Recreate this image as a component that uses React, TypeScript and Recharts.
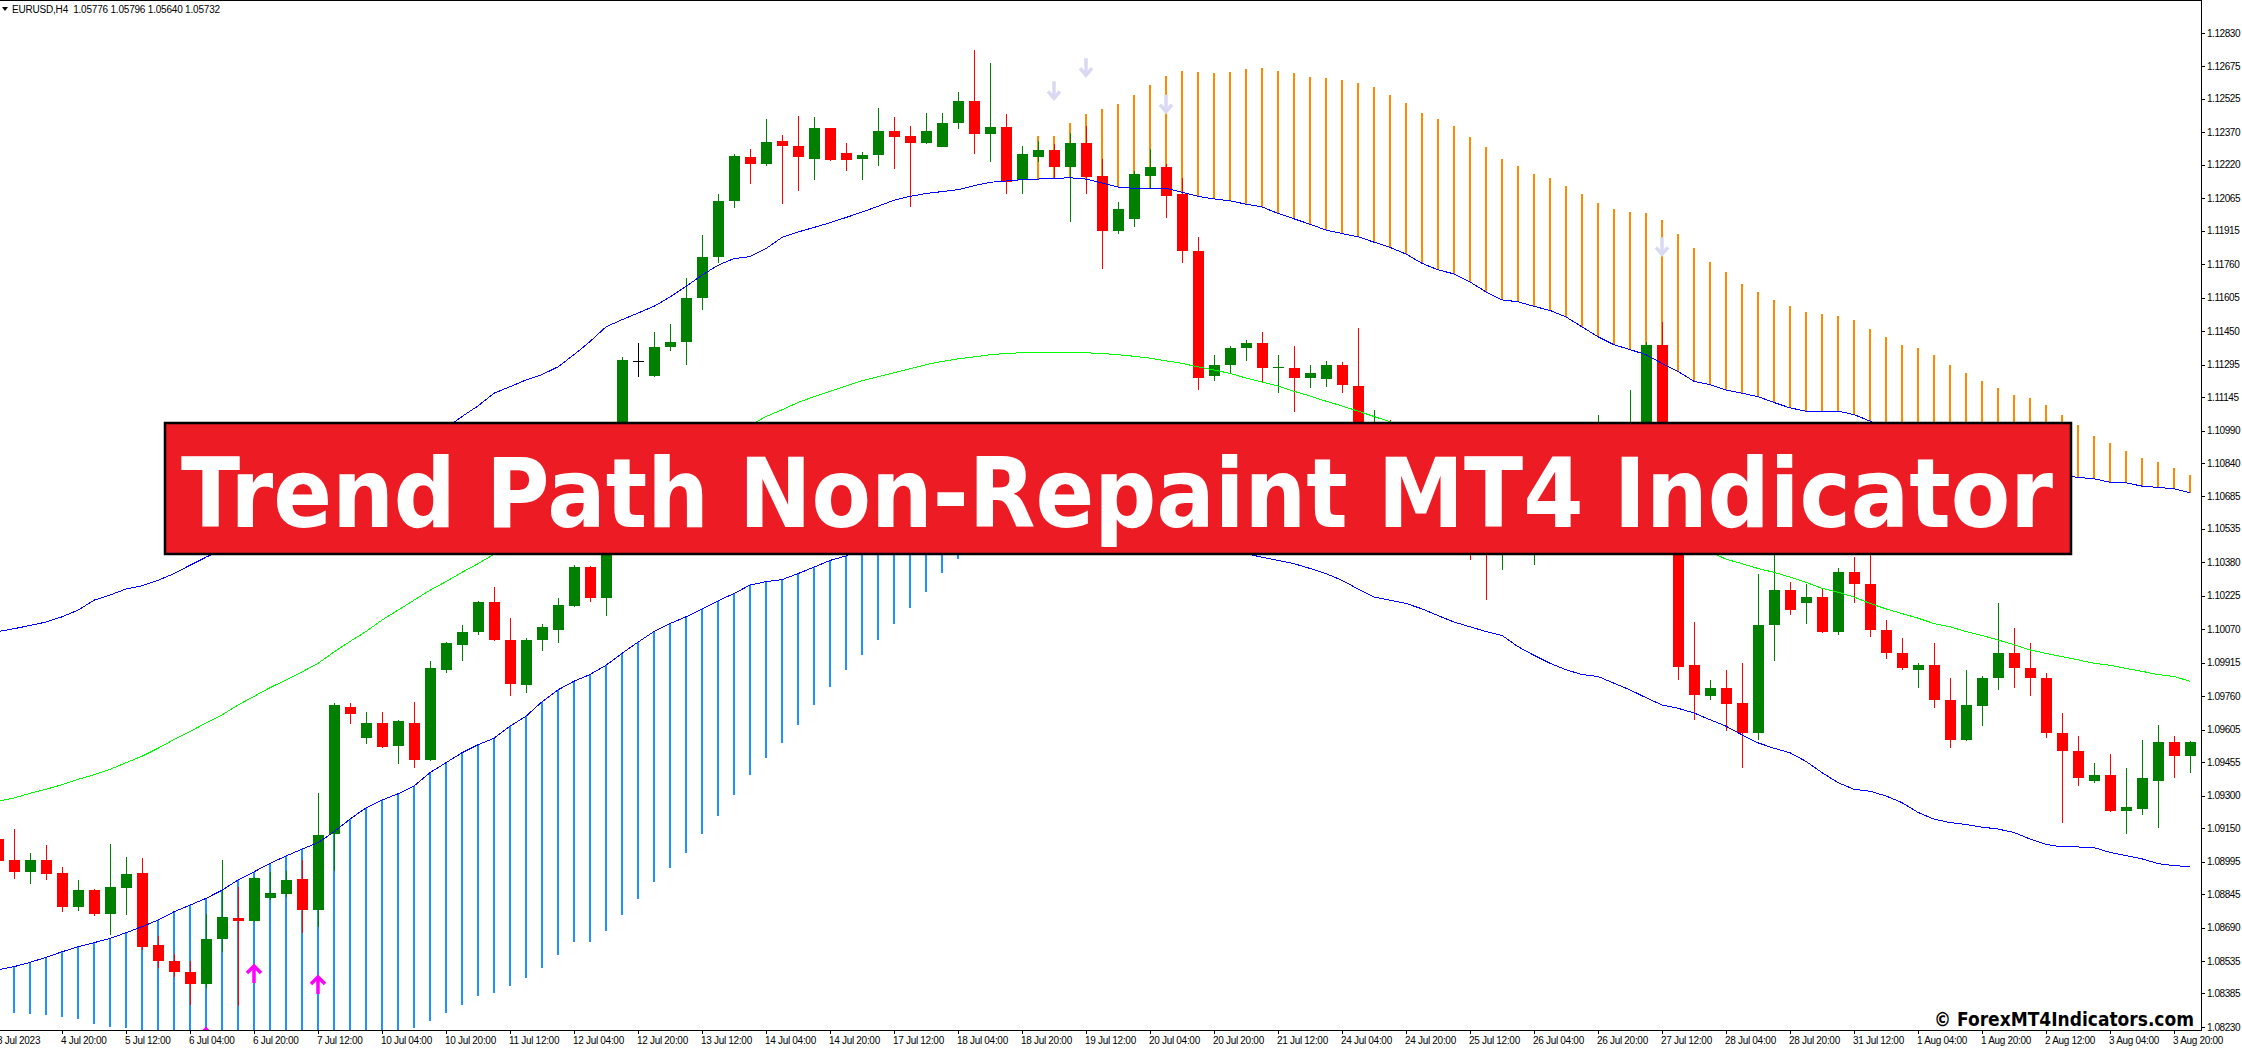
import { ComposedChart, Bar, Line, Scatter, XAxis, YAxis } from "recharts";

// EURUSD H4, bars k = -1 .. 136 (first one is cut by the left edge)
const FIRST_BAR = -1;

const open = [
  1.091, 1.09002, 1.08948, 1.09002, 1.08942, 1.08786, 1.08863, 1.08752, 1.08874, 1.08942,
  1.08609, 1.08535, 1.08484, 1.0843, 1.08638, 1.08734, 1.08722, 1.08828, 1.08847, 1.08914,
  1.08772, 1.09121, 1.09711, 1.09566, 1.09637, 1.09529, 1.09637, 1.09465, 1.09882, 1.09999,
  1.10057, 1.10196, 1.10021, 1.09812, 1.10021, 1.10067, 1.1018, 1.10358, 1.10214, 1.1065,
  1.1131, 1.11242, 1.11377, 1.11402, 1.11602, 1.11792, 1.12053, 1.12255, 1.12222, 1.12329,
  1.12308, 1.12249, 1.12391, 1.12274, 1.12246, 1.12265, 1.12375, 1.12351, 1.1232, 1.12302,
  1.12415, 1.12516, 1.12363, 1.12397, 1.12148, 1.12255, 1.12289, 1.12209, 1.12323, 1.1217,
  1.11915, 1.1197, 1.1217, 1.12209, 1.12084, 1.11823, 1.11242, 1.11292, 1.11371, 1.11396,
  1.11279, 1.11279, 1.11233, 1.11227, 1.11295, 1.11196, 1.1088, 1.1099, 1.1093, 1.1098,
  1.1087, 1.108, 1.1072, 1.106, 1.1056, 1.1064, 1.1062, 1.107, 1.1076, 1.1073,
  1.108, 1.1086, 1.1082, 1.109, 1.11387, 1.106, 1.09904, 1.0976, 1.098, 1.09729,
  1.09591, 1.10088, 1.10251, 1.1019, 1.1022, 1.10057, 1.10337, 1.10282, 1.10067, 1.09959,
  1.09883, 1.09904, 1.09745, 1.0956, 1.09714, 1.09843, 1.09959, 1.09889, 1.09843, 1.09591,
  1.09505, 1.0937, 1.09397, 1.09229, 1.09238, 1.09367, 1.09551, 1.09483,
];

const high = [
  1.0913, 1.09146, 1.09036, 1.09072, 1.08971, 1.0891, 1.08868, 1.09076, 1.09018, 1.0901,
  1.08651, 1.0857, 1.08535, 1.08752, 1.09002, 1.08876, 1.08925, 1.08948, 1.08953, 1.09002,
  1.09315, 1.09729, 1.09729, 1.09689, 1.09689, 1.09652, 1.09735, 1.09922, 1.10011, 1.10088,
  1.102, 1.10266, 1.10122, 1.1003, 1.10097, 1.10214, 1.10367, 1.10365, 1.1068, 1.11331,
  1.11393, 1.11448, 1.11485, 1.11694, 1.11893, 1.12084, 1.12271, 1.12292, 1.1243, 1.1236,
  1.12446, 1.12443, 1.12391, 1.12323, 1.1228, 1.12483, 1.12443, 1.124, 1.12461, 1.12461,
  1.12556, 1.12753, 1.12691, 1.12455, 1.12308, 1.12329, 1.12314, 1.12369, 1.124, 1.12246,
  1.12047, 1.12191, 1.12292, 1.12225, 1.1216, 1.11884, 1.11341, 1.11381, 1.11411, 1.11448,
  1.11338, 1.11381, 1.11295, 1.1131, 1.11307, 1.11463, 1.11086, 1.1104, 1.1101, 1.11,
  1.109, 1.1083, 1.1076, 1.1064, 1.1068, 1.107, 1.1074, 1.108, 1.1082, 1.1085,
  1.11064, 1.109, 1.11178, 1.114, 1.11494, 1.1065, 1.10104, 1.09836, 1.09883, 1.09913,
  1.10328, 1.1044, 1.10288, 1.10282, 1.1026, 1.10352, 1.10404, 1.1044, 1.10113, 1.1003,
  1.09913, 1.10005, 1.09843, 1.09883, 1.09852, 1.1019, 1.10076, 1.10005, 1.09867, 1.09683,
  1.09576, 1.09453, 1.09493, 1.09428, 1.0956, 1.09628, 1.09576, 1.09555,
];

const low = [
  1.0898, 1.08914, 1.08891, 1.0891, 1.08763, 1.08766, 1.08745, 1.08655, 1.08748, 1.08586,
  1.08504, 1.08462, 1.08331, 1.08411, 1.08577, 1.08328, 1.08715, 1.08817, 1.08833, 1.08666,
  1.08694, 1.08953, 1.09631, 1.09539, 1.0952, 1.09447, 1.09428, 1.0946, 1.09867, 1.09922,
  1.10045, 1.10015, 1.0976, 1.09775, 1.09968, 1.10005, 1.10175, 1.10199, 1.10134, 1.106,
  1.11239, 1.1124, 1.11356, 1.11292, 1.11549, 1.11764, 1.12019, 1.1213, 1.12216, 1.12038,
  1.12099, 1.12148, 1.12237, 1.12191, 1.12148, 1.12216, 1.122, 1.12025, 1.12314, 1.12302,
  1.12384, 1.12271, 1.12231, 1.12084, 1.12087, 1.12231, 1.12154, 1.11955, 1.12084, 1.1174,
  1.11899, 1.1193, 1.12114, 1.11976, 1.11767, 1.11178, 1.11218, 1.11255, 1.1131, 1.11209,
  1.11166, 1.11074, 1.11187, 1.11193, 1.11166, 1.1085, 1.1084, 1.1088, 1.1089, 1.1082,
  1.1076, 1.1065, 1.10389, 1.10205, 1.10346, 1.1056, 1.10367, 1.1066, 1.1068, 1.107,
  1.1077, 1.1078, 1.1079, 1.1088, 1.1055, 1.09836, 1.09652, 1.09745, 1.096, 1.09428,
  1.0956, 1.09922, 1.10137, 1.10097, 1.10051, 1.10045, 1.1019, 1.10036, 1.09935, 1.09883,
  1.09797, 1.09705, 1.0952, 1.09555, 1.09622, 1.0979, 1.09797, 1.0976, 1.09569, 1.09176,
  1.09345, 1.09361, 1.09223, 1.09121, 1.09213, 1.09152, 1.09382, 1.09407,
];

const close = [
  1.08999, 1.08948, 1.09002, 1.08938, 1.08785, 1.08863, 1.08752, 1.08877, 1.08938, 1.08601,
  1.08536, 1.08486, 1.0843, 1.08637, 1.08739, 1.08722, 1.08919, 1.0885, 1.0891, 1.08772,
  1.09118, 1.0972, 1.09677, 1.09637, 1.09526, 1.09646, 1.09465, 1.09889, 1.10005, 1.1006,
  1.10196, 1.10021, 1.09815, 1.10021, 1.10082, 1.10183, 1.10358, 1.10214, 1.1065, 1.11316,
  1.1131, 1.11377, 1.11402, 1.11605, 1.11795, 1.12053, 1.12262, 1.12222, 1.12326, 1.12305,
  1.12255, 1.12391, 1.12243, 1.1224, 1.12265, 1.12375, 1.12348, 1.12323, 1.12375, 1.12415,
  1.12516, 1.12363, 1.12397, 1.12139, 1.12271, 1.12289, 1.12209, 1.12323, 1.12163, 1.11915,
  1.12016, 1.12179, 1.12209, 1.12077, 1.11823, 1.11233, 1.11295, 1.11371, 1.11393, 1.11279,
  1.11282, 1.11233, 1.11255, 1.11295, 1.11199, 1.1088, 1.1099, 1.1093, 1.1098, 1.1087,
  1.108, 1.1072, 1.106, 1.1056, 1.1064, 1.1062, 1.107, 1.1076, 1.1073, 1.108,
  1.1086, 1.1082, 1.109, 1.11387, 1.106, 1.09898, 1.09766, 1.098, 1.09723, 1.09591,
  1.10091, 1.10251, 1.10159, 1.1022, 1.10057, 1.10337, 1.10282, 1.10067, 1.09959, 1.09889,
  1.09904, 1.09745, 1.0956, 1.0972, 1.09843, 1.09959, 1.09889, 1.09843, 1.09591, 1.09505,
  1.09382, 1.09397, 1.09229, 1.09247, 1.09382, 1.09551, 1.09483, 1.09551,
];

// upper / lower channel (blue) and slow MA (green)
const upperBand = [
  1.1006, 1.10073, 1.10088, 1.10104, 1.10128, 1.10159, 1.10205, 1.10229, 1.10257, 1.10272,
  1.10297, 1.10328, 1.10367, 1.10404, 1.1044, 1.1048, 1.1052, 1.1056, 1.106, 1.1064,
  1.1068, 1.1072, 1.1076, 1.108, 1.1084, 1.1088, 1.1092, 1.1096, 1.11, 1.11055,
  1.11104, 1.11163, 1.11193, 1.11224, 1.11249, 1.11285, 1.11341, 1.11402, 1.1147, 1.11503,
  1.11534, 1.11565, 1.11608, 1.11657, 1.11709, 1.11755, 1.11786, 1.11795, 1.11832, 1.11884,
  1.11909, 1.1193, 1.11952, 1.11976, 1.12001, 1.12028, 1.12056, 1.12074, 1.12087, 1.12096,
  1.12105, 1.12123, 1.12139, 1.12145, 1.12151, 1.12154, 1.12157, 1.1216, 1.12154, 1.12136,
  1.12117, 1.12111, 1.12111, 1.12111, 1.12093, 1.12074, 1.12062, 1.12053, 1.12038, 1.12025,
  1.11995, 1.1197, 1.11945, 1.11918, 1.11902, 1.11887, 1.11862, 1.11838, 1.11807, 1.11764,
  1.11734, 1.11715, 1.11678, 1.11632, 1.11595, 1.11586, 1.11565, 1.11546, 1.11516, 1.1147,
  1.11424, 1.11387, 1.11365, 1.11341, 1.11301, 1.11264, 1.11218, 1.11203, 1.11178, 1.11163,
  1.11147, 1.1112, 1.11095, 1.1108, 1.1108, 1.1108, 1.11064, 1.11034, 1.11005, 1.1098,
  1.10955, 1.1093, 1.10905, 1.10885, 1.10865, 1.10845, 1.1083, 1.10815, 1.108, 1.10785,
  1.10773, 1.10767, 1.10751, 1.10748, 1.10733, 1.10727, 1.10721, 1.10702,
];

const lowerBand = [
  1.08495, 1.08509, 1.08529, 1.08552, 1.08578, 1.08601, 1.0862, 1.0864, 1.08666, 1.08694,
  1.08725, 1.08763, 1.08794, 1.08825, 1.08863, 1.0891, 1.08948, 1.08987, 1.09021, 1.09053,
  1.09083, 1.09133, 1.09192, 1.09244, 1.0928, 1.09309, 1.09345, 1.09407, 1.09453, 1.09499,
  1.09536, 1.09566, 1.09622, 1.09668, 1.09735, 1.0979, 1.0983, 1.09861, 1.09904, 1.09959,
  1.10011, 1.1006, 1.10097, 1.10128, 1.10165, 1.10202, 1.10236, 1.10275, 1.10291, 1.103,
  1.10328, 1.10358, 1.10389, 1.1041, 1.1044, 1.1047, 1.105, 1.10525, 1.10545, 1.1056,
  1.10575, 1.1059, 1.106, 1.10605, 1.1061, 1.1061, 1.10605, 1.106, 1.1059, 1.10575,
  1.1056, 1.10545, 1.1053, 1.1051, 1.1049, 1.1047, 1.1045, 1.10435, 1.1042, 1.10404,
  1.10389, 1.10374, 1.10352, 1.10328, 1.10297, 1.10257, 1.1022, 1.10205, 1.1019, 1.10165,
  1.10134, 1.10104, 1.10082, 1.1006, 1.10042, 1.0999, 1.0995, 1.09913, 1.09883, 1.09861,
  1.09852, 1.09821, 1.0979, 1.09754, 1.0972, 1.09705, 1.09683, 1.09652, 1.09622, 1.09582,
  1.09545, 1.0952, 1.09499, 1.09459, 1.09407, 1.09361, 1.0933, 1.09321, 1.09299, 1.09268,
  1.09223, 1.09192, 1.09176, 1.09167, 1.09155, 1.09146, 1.0913, 1.091, 1.09075, 1.09063,
  1.09063, 1.0906, 1.09038, 1.09023, 1.09008, 1.08986, 1.08977, 1.08971,
];

const slowMa = [
  1.09275, 1.0929, 1.09311, 1.0933, 1.09351, 1.09376, 1.09397, 1.09422, 1.09453, 1.09483,
  1.0952, 1.0956, 1.09597, 1.09637, 1.09674, 1.0972, 1.0976, 1.098, 1.09836, 1.09873,
  1.09913, 1.09965, 1.10014, 1.1006, 1.10113, 1.10159, 1.10205, 1.10251, 1.10291, 1.10334,
  1.10374, 1.10417, 1.10459, 1.105, 1.1054, 1.1058, 1.10619, 1.10658, 1.10696, 1.10734,
  1.10771, 1.10807, 1.10843, 1.10878, 1.10912, 1.10946, 1.1098, 1.11014, 1.11055, 1.11086,
  1.1112, 1.11147, 1.11172, 1.11196, 1.11221, 1.11239, 1.11258, 1.11276, 1.11295, 1.1131,
  1.11322, 1.11331, 1.11341, 1.11347, 1.1135, 1.11353, 1.11353, 1.11353, 1.1135, 1.11347,
  1.11341, 1.11334, 1.11325, 1.11313, 1.11301, 1.11285, 1.1127, 1.11255, 1.11233, 1.11215,
  1.11196, 1.11172, 1.1115, 1.11126, 1.11104, 1.1108, 1.11055, 1.11031, 1.11, 1.1097,
  1.1094, 1.1091, 1.1088, 1.1085, 1.1082, 1.1079, 1.1076, 1.1073, 1.107, 1.1067,
  1.1064, 1.1061, 1.1058, 1.1055, 1.1052, 1.1049, 1.1046, 1.1043, 1.10395, 1.10374,
  1.10352, 1.10334, 1.10312, 1.10288, 1.1026, 1.10242, 1.1022, 1.1019, 1.10165, 1.10143,
  1.10122, 1.10097, 1.10082, 1.1006, 1.10042, 1.10021, 1.09999, 1.09975, 1.09959, 1.09944,
  1.09929, 1.09913, 1.09904, 1.09889, 1.09876, 1.09861, 1.09852, 1.0983,
];

// trend path histogram: blue bars hang below the lower band (k = -1..59),
// orange bars stand above the upper band (k = 64..136)
const BULL_START = -1;
const bullEnd = [
  1.083, 1.08296, 1.08291, 1.08287, 1.08277, 1.08268, 1.08245, 1.08231, 1.08227, 1.08216,
  1.08216, 1.08216, 1.08216, 1.08216, 1.08216, 1.08216, 1.08216, 1.08216, 1.08216, 1.08216,
  1.08216, 1.08216, 1.08216, 1.08216, 1.08216, 1.08216, 1.08225, 1.08259, 1.08296, 1.08332,
  1.08372, 1.08387, 1.08418, 1.08455, 1.08501, 1.08562, 1.08624, 1.08624, 1.08676, 1.08747,
  1.08823, 1.089, 1.08968, 1.09033, 1.09121, 1.09207, 1.09305, 1.09397, 1.09474, 1.09545,
  1.09628, 1.0972, 1.09803, 1.09882, 1.0995, 1.10021, 1.10097, 1.10171, 1.10245, 1.10331,
  1.10398,
];
const BEAR_START = 64;
const bearEnd = [
  1.12354, 1.12354, 1.12415, 1.12455, 1.12476, 1.12501, 1.12544, 1.1259, 1.1263, 1.12655,
  1.12651, 1.12645, 1.12651, 1.12661, 1.12667, 1.12655, 1.12645, 1.12627, 1.12621, 1.12612,
  1.12599, 1.12578, 1.12544, 1.12507, 1.12461, 1.1243, 1.124, 1.12348, 1.12302, 1.12246,
  1.12216, 1.12179, 1.1216, 1.12123, 1.12084, 1.12044, 1.12016, 1.12001, 1.11995, 1.11964,
  1.11899, 1.11835, 1.1177, 1.11724, 1.11669, 1.11632, 1.11595, 1.11565, 1.1154, 1.11531,
  1.11519, 1.115, 1.1146, 1.11424, 1.11387, 1.11371, 1.11341, 1.11295, 1.11258, 1.11218,
  1.11187, 1.11156, 1.11141, 1.1111, 1.11064, 1.11018, 1.10963, 1.10932, 1.10895, 1.10865,
  1.10843, 1.10819, 1.10785,
];

// signal arrows (bar index, price at the arrow tip)
const buyArrowBars = [12, 15, 19];
const buyArrowPrices = [1.08225, 1.08517, 1.08466];
const sellArrowBars = [65, 67, 72, 103];
const sellArrowPrices = [1.12523, 1.1263, 1.12461, 1.11801];

const xLabels = [
  "3 Jul 2023", "4 Jul 20:00", "5 Jul 12:00", "6 Jul 04:00", "6 Jul 20:00", "7 Jul 12:00",
  "10 Jul 04:00", "10 Jul 20:00", "11 Jul 12:00", "12 Jul 04:00", "12 Jul 20:00",
  "13 Jul 12:00", "14 Jul 04:00", "14 Jul 20:00", "17 Jul 12:00", "18 Jul 04:00",
  "18 Jul 20:00", "19 Jul 12:00", "20 Jul 04:00", "20 Jul 20:00", "21 Jul 12:00",
  "24 Jul 04:00", "24 Jul 20:00", "25 Jul 12:00", "26 Jul 04:00", "26 Jul 20:00",
  "27 Jul 12:00", "28 Jul 04:00", "28 Jul 20:00", "31 Jul 12:00", "1 Aug 04:00",
  "1 Aug 20:00", "2 Aug 12:00", "3 Aug 04:00", "3 Aug 20:00",
];
const LABEL_STEP = 4;

const priceTicks = [
  1.1283, 1.12675, 1.12525, 1.1237, 1.1222, 1.12065, 1.11915, 1.1176, 1.11605, 1.1145,
  1.11295, 1.11145, 1.1099, 1.1084, 1.10685, 1.10535, 1.1038, 1.10225, 1.1007, 1.09915,
  1.0976, 1.09605, 1.09455, 1.093, 1.0915, 1.08995, 1.08845, 1.0869, 1.08535, 1.08385,
  1.0823,
];
const PRICE_MIN = 1.08216;
const PRICE_MAX = 1.12978;

const BULL = "#008000";
const BEAR = "#FF0000";
const TREND_UP = "#1E90FF";
const TREND_DN = "#FF8C00";

const rows = open.map((o, j) => {
  const k = j + FIRST_BAR;
  const bull = k - BULL_START >= 0 && k - BULL_START < bullEnd.length ? bullEnd[k - BULL_START] : null;
  const bear = k - BEAR_START >= 0 && k - BEAR_START < bearEnd.length ? bearEnd[k - BEAR_START] : null;
  const bi = buyArrowBars.indexOf(k);
  const si = sellArrowBars.indexOf(k);
  return {
    k,
    o,
    h: high[j],
    l: low[j],
    c: close[j],
    upper: upperBand[j],
    lower: lowerBand[j],
    ma: slowMa[j],
    trend: bull != null ? [bull, lowerBand[j]] : bear != null ? [upperBand[j], bear] : null,
    trendUp: bull != null,
    buy: bi >= 0 ? buyArrowPrices[bi] : null,
    sell: si >= 0 ? sellArrowPrices[si] : null,
  };
});

const candleColor = (d: any) => (d.c > d.o ? BULL : d.c < d.o ? BEAR : "#000000");

function CandleBody(props: any) {
  const { x, y, width, height, payload } = props;
  if (!payload) return null;
  const top = Math.min(y, y + height);
  return (
    <rect x={x} y={top} width={width} height={Math.max(1, Math.abs(height))}
      fill={candleColor(payload)} shapeRendering="crispEdges" />
  );
}

function CandleWick(props: any) {
  const { x, y, width, height, payload } = props;
  if (!payload) return null;
  return (
    <rect x={x} y={Math.min(y, y + height)} width={width} height={Math.max(1, Math.abs(height))}
      fill={candleColor(payload)} shapeRendering="crispEdges" />
  );
}

function TrendBar(props: any) {
  const { x, y, width, height, payload } = props;
  if (!payload || payload.trend == null) return null;
  return (
    <rect x={x} y={Math.min(y, y + height)} width={width} height={Math.abs(height)}
      fill={payload.trendUp ? TREND_UP : TREND_DN} shapeRendering="crispEdges" />
  );
}

function BuyArrow(props: any) {
  const { cx, cy, payload } = props;
  if (!payload || payload.buy == null) return null;
  return (
    <g stroke="#FF00FF" strokeWidth={3.5} fill="none">
      <path d={`M${cx - 7},${cy + 8} L${cx},${cy + 1} L${cx + 7},${cy + 8}`} />
      <path d={`M${cx},${cy + 1} L${cx},${cy + 18}`} />
    </g>
  );
}

function SellArrow(props: any) {
  const { cx, cy, payload } = props;
  if (!payload || payload.sell == null) return null;
  return (
    <g stroke="#D9D9F3" strokeWidth={3.5} fill="none">
      <path d={`M${cx - 6},${cy - 8} L${cx},${cy - 1} L${cx + 6},${cy - 8}`} />
      <path d={`M${cx},${cy - 1} L${cx},${cy - 18}`} />
    </g>
  );
}

const AXIS_FONT = "'Liberation Sans', Arial, sans-serif";
const SHIFT = 10; // chart svg sits 10px left of the page so bar 0 lands at x≈13
const FRAME_X = 2201;
const PLOT_BOTTOM = 1030;

function TimeTick(props: any) {
  const { x, payload } = props;
  const n = payload.value - FIRST_BAR;
  if (n % LABEL_STEP !== 0) return <g />;
  const label = xLabels[n / LABEL_STEP];
  if (!label) return <g />;
  return (
    <g>
      <line x1={x + 0.5} x2={x + 0.5} y1={PLOT_BOTTOM} y2={PLOT_BOTTOM + 4} stroke="#000" />
      <text x={x - 1} y={PLOT_BOTTOM + 14} fontSize={10} fontFamily={AXIS_FONT}
        letterSpacing={-0.3} fill="#000">
        {label}
      </text>
    </g>
  );
}

function PriceTick(props: any) {
  const { y, payload } = props;
  const ax = FRAME_X + SHIFT;
  const yy = Math.round(y) + 0.5;
  return (
    <g>
      <line x1={ax} x2={ax + 4} y1={yy} y2={yy} stroke="#000" />
      <text x={ax + 6} y={y + 3.6} fontSize={10} fontFamily={AXIS_FONT} letterSpacing={-0.45} fill="#000">
        {Number(payload.value).toFixed(5)}
      </text>
    </g>
  );
}

export default function App() {
  return (
    <div style={{ position: "fixed", left: 0, top: 0, width: 2242, height: 1048, overflow: "hidden", background: "#fff" }}>
      {/* MT4 draws its indicator lines without anti-aliasing */}
      <style>{".recharts-line-curve { shape-rendering: crispEdges; }"}</style>
      <div style={{ position: "absolute", left: -SHIFT, top: 0 }}>
        <ComposedChart width={2253} height={1048} data={rows} margin={{ top: 1, right: 0, bottom: 0, left: 0 }}>
          <XAxis dataKey="k" type="category" height={18} interval={0} tickLine={false} axisLine={false} tick={TimeTick} />
          <XAxis xAxisId="trend" dataKey="k" type="category" hide />
          <XAxis xAxisId="wick" dataKey="k" type="category" hide />
          <XAxis xAxisId="body" dataKey="k" type="category" hide />
          <YAxis orientation="right" width={45} type="number" domain={[PRICE_MIN, PRICE_MAX]}
            allowDataOverflow ticks={priceTicks} interval={0} tickLine={false} axisLine={false} tick={PriceTick} />

          <Bar xAxisId="trend" dataKey="trend" barSize={2} shape={TrendBar} isAnimationActive={false} />
          <Bar xAxisId="wick" dataKey={(d: any) => [d.l, d.h]} barSize={1} shape={CandleWick} isAnimationActive={false} />
          <Bar xAxisId="body" dataKey={(d: any) => [Math.min(d.o, d.c), Math.max(d.o, d.c)]} barSize={11}
            shape={CandleBody} isAnimationActive={false} />

          <Line dataKey="upper" type="linear" stroke="#0000FF" strokeWidth={1} dot={false} activeDot={false} isAnimationActive={false} />
          <Line dataKey="lower" type="linear" stroke="#0000FF" strokeWidth={1} dot={false} activeDot={false} isAnimationActive={false} />
          <Line dataKey="ma" type="linear" stroke="#00FF00" strokeWidth={1} dot={false} activeDot={false} isAnimationActive={false} />

          <Scatter dataKey="buy" shape={BuyArrow} isAnimationActive={false} />
          <Scatter dataKey="sell" shape={SellArrow} isAnimationActive={false} />
        </ComposedChart>
      </div>

      {/* frame, header, banner and watermark */}
      <svg width={2242} height={1048} style={{ position: "absolute", left: 0, top: 0, pointerEvents: "none" }}>
        <line x1={0} x2={FRAME_X + 0.5} y1={0.5} y2={0.5} stroke="#000" />
        <line x1={FRAME_X + 0.5} x2={FRAME_X + 0.5} y1={0} y2={PLOT_BOTTOM + 1} stroke="#000" />
        <line x1={0} x2={FRAME_X + 0.5} y1={PLOT_BOTTOM + 0.5} y2={PLOT_BOTTOM + 0.5} stroke="#000" />

        <polygon points="2,7 8,7 5,11" fill="#000" />
        <text x={12} y={12.5} fontSize={10} fontFamily={AXIS_FONT} letterSpacing={-0.2} fill="#000" style={{ whiteSpace: "pre" }}>
          {"EURUSD,H4  1.05776 1.05796 1.05640 1.05732"}
        </text>

        <rect x={165} y={423} width={1906} height={131} fill="#ED1C24" stroke="#000" strokeWidth={2.5} />
        <text x={181} y={527} fontSize={97} fontWeight="bold" fontFamily="'DejaVu Sans', Verdana, sans-serif"
          fill="#fff" textLength={1872} lengthAdjust="spacingAndGlyphs">
          Trend Path Non-Repaint MT4 Indicator
        </text>

        <text x={1934} y={1026} fontSize={20} fontWeight="bold" fontFamily="'DejaVu Sans', Verdana, sans-serif"
          fill="#000" textLength={260} lengthAdjust="spacingAndGlyphs">
          © ForexMT4Indicators.com
        </text>
      </svg>
    </div>
  );
}
